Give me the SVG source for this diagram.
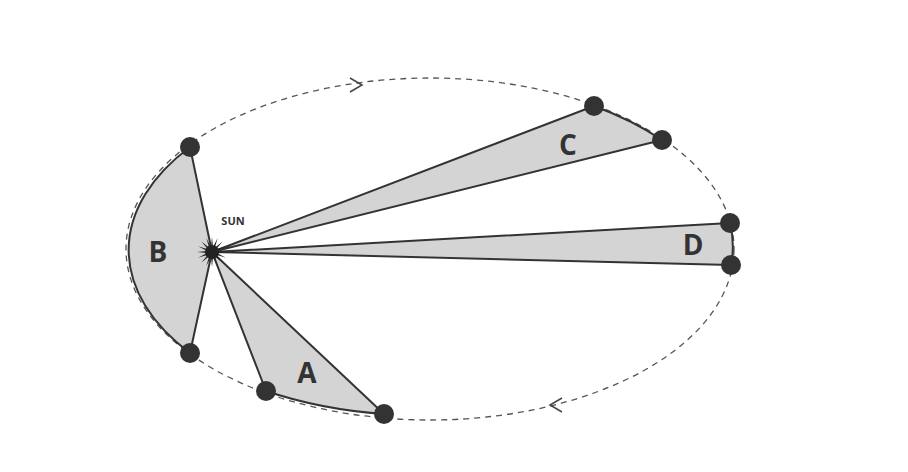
<svg xmlns="http://www.w3.org/2000/svg" width="908" height="472" viewBox="0 0 908 472">
<style>
.sec{fill:#d4d4d4;stroke:#333;stroke-width:2;stroke-linejoin:round}
.dot{fill:#333}
.lbl{font-family:"Open Sans","Liberation Sans",sans-serif;font-weight:bold;fill:#333;text-anchor:middle}
.orbit{fill:none;stroke:#555;stroke-width:1.3;stroke-dasharray:6 5}
.arr{fill:none;stroke:#444;stroke-width:1.5}
</style>
<rect width="908" height="472" fill="#fff"/>
<g id="connectors">
<ellipse class="orbit" cx="430" cy="249" rx="304" ry="171"/>
<path class="arr" d="M350,78 L362,85 L350,92"/>
<path class="arr" d="M562,398 L550,405 L562,412"/>
</g>
<g id="sector-B"><path class="sec" d="M212,252 L190,147 A304,171 0 0 0 190,353 Z"/><text class="lbl" x="158" y="262" font-size="28">B</text></g>
<g id="sector-A"><path class="sec" d="M212,252 L266,391 A304,171 0 0 0 384,414 Z"/><text class="lbl" x="307" y="383" font-size="28">A</text></g>
<g id="sector-C"><path class="sec" d="M212,252 L594,106 A304,171 0 0 1 662,140 Z"/><text class="lbl" x="568" y="155" font-size="28">C</text></g>
<g id="sector-D"><path class="sec" d="M212,252 L730,223 A304,171 0 0 1 731,265 Z"/><text class="lbl" x="693" y="255" font-size="28">D</text></g>
<g id="planets">
<circle class="dot" cx="190" cy="147" r="10"/><circle class="dot" cx="190" cy="353" r="10"/>
<circle class="dot" cx="266" cy="391" r="10"/><circle class="dot" cx="384" cy="414" r="10"/>
<circle class="dot" cx="594" cy="106" r="10"/><circle class="dot" cx="662" cy="140" r="10"/>
<circle class="dot" cx="730" cy="223" r="10"/><circle class="dot" cx="731" cy="265" r="10"/>
</g>
<g id="sun">
<polygon fill="#222" transform="translate(212,252)" points="15,0 4.9,1 13.9,5.7 4.2,2.8 10.6,10.6 2.8,4.2 5.7,13.9 1,4.9 0,15 -1,4.9 -5.7,13.9 -2.8,4.2 -10.6,10.6 -4.2,2.8 -13.9,5.7 -4.9,1 -15,0 -4.9,-1 -13.9,-5.7 -4.2,-2.8 -10.6,-10.6 -2.8,-4.2 -5.7,-13.9 -1,-4.9 0,-15 1,-4.9 5.7,-13.9 2.8,-4.2 10.6,-10.6 4.2,-2.8 13.9,-5.7 4.9,-1"/>
<circle cx="212" cy="252" r="7" fill="#222"/>
<text class="lbl" x="233" y="225" font-size="11">SUN</text>
</g>
</svg>
